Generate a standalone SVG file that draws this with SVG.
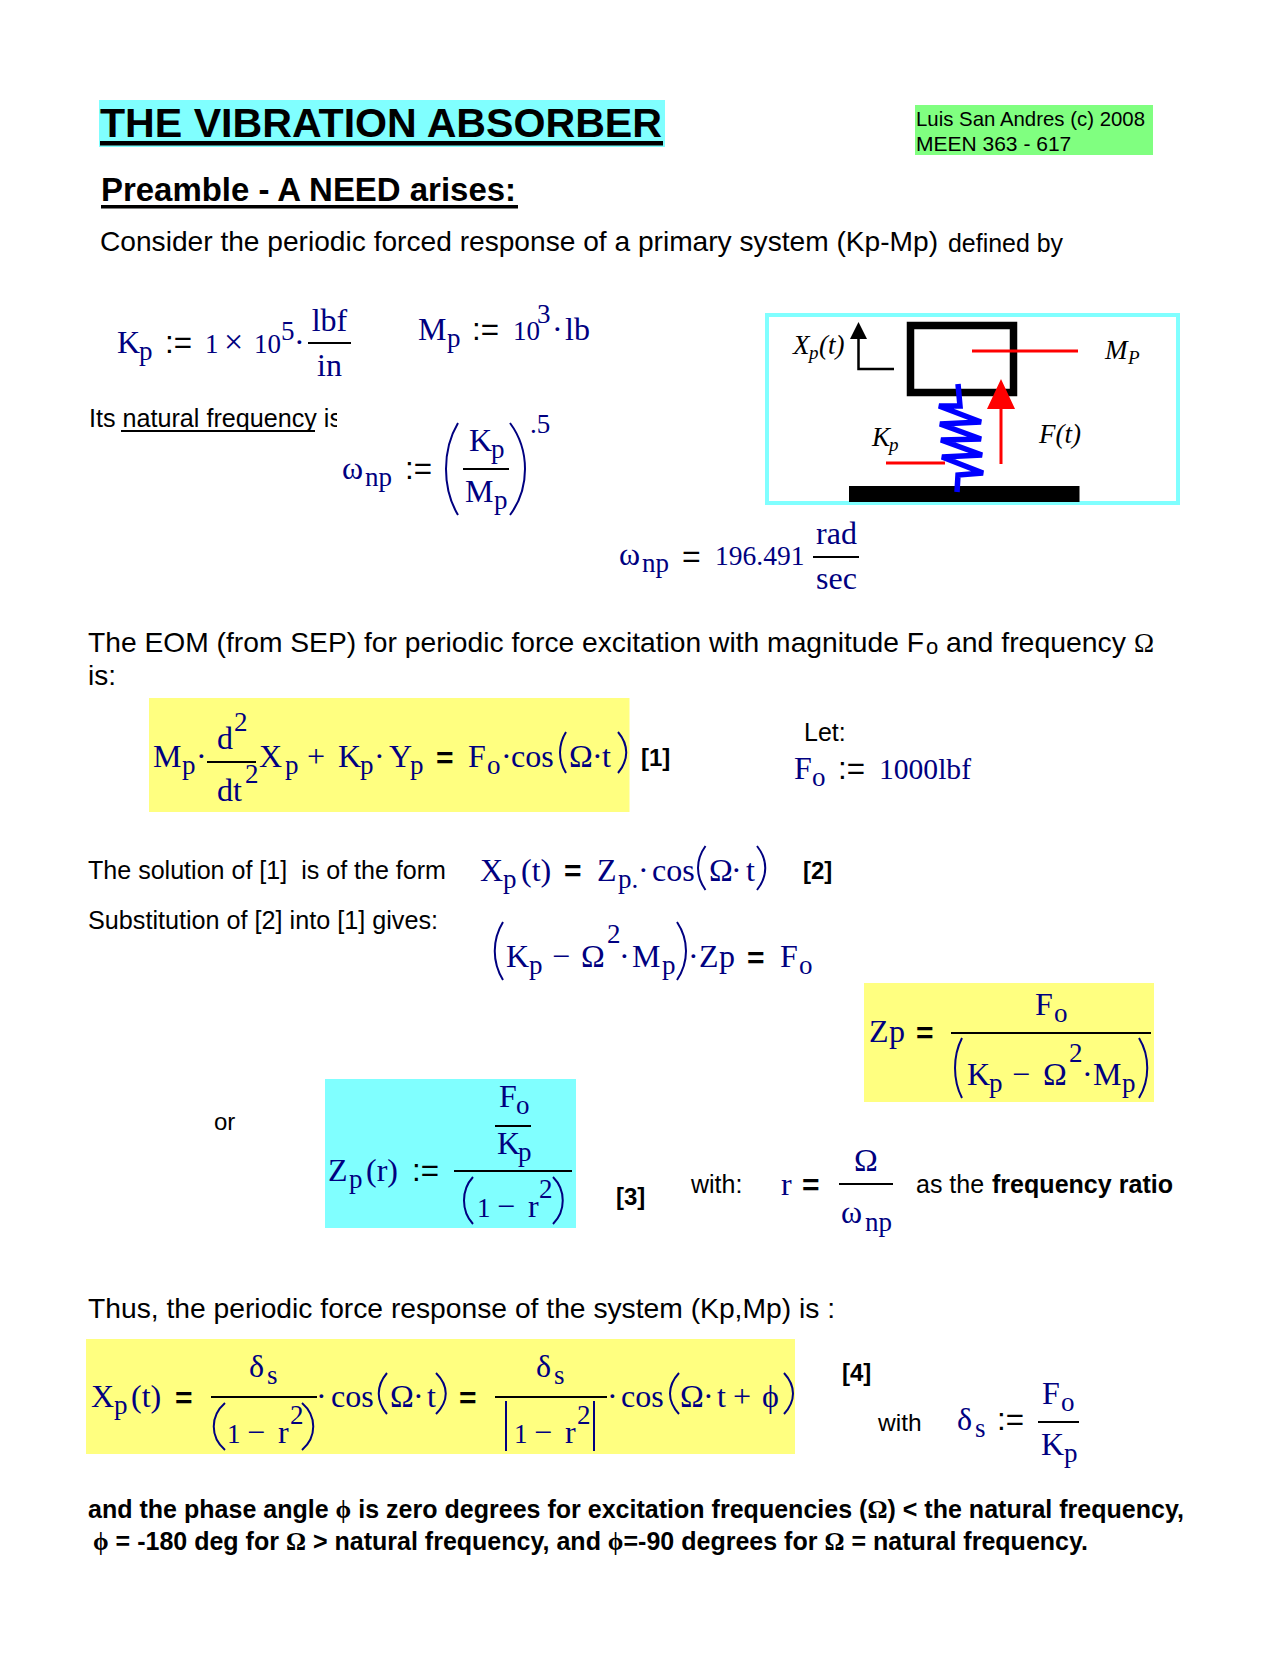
<svg xmlns="http://www.w3.org/2000/svg" width="1280" height="1656" viewBox="0 0 1280 1656">
<style>
text{white-space:pre}
.t{font-family:"Liberation Sans",Arial,sans-serif;fill:#000;font-size:25px}
.tb{font-family:"Liberation Sans",Arial,sans-serif;fill:#000;font-size:25px;font-weight:bold}
.sy{font-family:"Liberation Serif",serif}
.m{font-family:"Liberation Serif","Times New Roman",serif;fill:#000080;font-size:32px}
.s{font-family:"Liberation Serif","Times New Roman",serif;fill:#000080;font-size:27px}
.u{font-family:"Liberation Serif","Times New Roman",serif;fill:#000080;font-size:27px}
.k{font-family:"Liberation Sans",Arial,sans-serif;fill:#000;font-size:30px;font-weight:bold}
.a{font-family:"Liberation Sans",Arial,sans-serif;fill:#000;font-size:32px}
.i{font-family:"Liberation Serif","Times New Roman",serif;fill:#000;font-size:27px;font-style:italic}
.is{font-family:"Liberation Serif","Times New Roman",serif;fill:#000;font-size:19px;font-style:italic}
.c{text-anchor:middle}
.fr{stroke:#000;stroke-width:2;fill:none}
.pa{stroke:#000080;stroke-width:2;fill:none}
.rl{stroke:#f00;stroke-width:3;fill:none}
</style>
<defs><clipPath id="nf"><rect x="80" y="395" width="257" height="50"/></clipPath></defs>
<rect width="1280" height="1656" fill="#fff"/>

<g id="title">
<rect x="99" y="100" width="566" height="47" fill="#80ffff"/>
<text class="tb" x="100" y="137" style="font-size:40px" textLength="562" lengthAdjust="spacingAndGlyphs">THE VIBRATION ABSORBER</text>
<rect x="100" y="141" width="563" height="4.500" fill="#000"/>
</g>
<g id="author">
<rect x="915" y="105" width="238" height="50" fill="#80ff80"/>
<text class="t" x="916" y="126" style="font-size:21px" textLength="229" lengthAdjust="spacingAndGlyphs">Luis San Andres (c) 2008</text>
<text class="t" x="916" y="151" style="font-size:21px">MEEN 363 - 617</text>
</g>
<g id="preamble">
<text class="tb" x="101" y="201" style="font-size:33px" textLength="415" lengthAdjust="spacingAndGlyphs">Preamble - A NEED arises:</text>
<rect x="101" y="205" width="417" height="3.500" fill="#000"/>
<text class="t" x="100" y="251" style="font-size:28px" textLength="838" lengthAdjust="spacingAndGlyphs">Consider the periodic forced response of a primary system (Kp-Mp)</text>
<text class="t" x="948" y="252" style="font-size:25px" textLength="115" lengthAdjust="spacingAndGlyphs">defined by</text>
</g>

<g id="eq-kp">
<text class="m" x="117" y="353">K</text><text class="s" x="139" y="360">p</text>
<text class="a" x="165" y="353" textLength="27" lengthAdjust="spacingAndGlyphs">:=</text>
<text class="s" x="205" y="353">1</text><text class="m" x="224" y="353" style="font-size:34px">×</text><text class="s" x="254" y="353">10</text><text class="u" x="281" y="340">5</text>
<text class="m" x="294" y="353">·</text>
<line class="fr" x1="308" y1="343" x2="351" y2="343"/>
<text class="m c" x="329.500" y="331">lbf</text><text class="m c" x="329.500" y="376">in</text>
</g>
<g id="eq-mp">
<text class="m" x="418" y="340">M</text><text class="s" x="447" y="347">p</text>
<text class="a" x="472" y="340" textLength="27" lengthAdjust="spacingAndGlyphs">:=</text>
<text class="s" x="513" y="340">10</text><text class="u" x="537" y="323">3</text><text class="m" x="552" y="340">·</text><text class="m" x="565" y="340">lb</text>
</g>
<g id="natural-frequency">
<text class="t" x="89" y="427" clip-path="url(#nf)" textLength="253" lengthAdjust="spacingAndGlyphs">Its natural frequency is</text>
<rect x="121" y="430" width="194" height="2" fill="#000"/>
</g>
<g id="eq-omega">
<text class="m" x="342" y="479">ω</text><text class="s" x="365" y="486">np</text>
<text class="a" x="405" y="479" textLength="27" lengthAdjust="spacingAndGlyphs">:=</text>
<path class="pa" d="M458 423C442 450 442 488 458 515M510 423C530 450 530 488 510 515"/>
<text class="m" x="469" y="451">K</text><text class="s" x="491" y="458">p</text>
<line class="fr" x1="463" y1="469" x2="509" y2="469"/>
<text class="m" x="465" y="502">M</text><text class="s" x="494" y="509">p</text>
<text class="u" x="530" y="433">.5</text>
</g>

<g id="schematic">
<path d="M767 315H1178V503H767Z" fill="none" stroke="#80ffff" stroke-width="4"/>
<rect x="910.500" y="325.500" width="103" height="67" fill="none" stroke="#000" stroke-width="7.500"/>
<rect x="849" y="486" width="230.500" height="16" fill="#000"/>
<path d="M958 384L960 406H939L981 422L940 424L981 439L941 440L982 455L942 457L983 473L958 475L957 492" fill="none" stroke="#00f" stroke-width="5.500"/>
<path class="rl" d="M972 351H1078M886 463H945M1001 464V405"/>
<path d="M1001 379L987 409H1015Z" fill="#f00"/>
<path d="M858.500 335V369H894" fill="none" stroke="#000" stroke-width="2.500"/>
<path d="M858.500 322L850 339H867Z" fill="#000"/>
<text class="i" x="793" y="354">X</text><text class="is" x="809" y="359">p</text><text class="i" x="819" y="354">(t)</text>
<text class="i" x="1105" y="359">M</text><text class="is" x="1128" y="364">P</text>
<text class="i" x="872" y="446">K</text><text class="is" x="889" y="451">p</text>
<text class="i" x="1039" y="443">F(t)</text>
</g>
<g id="eq-omega-value">
<text class="m" x="619" y="565">ω</text><text class="s" x="642" y="572">np</text>
<text class="a" x="682" y="567">=</text>
<text class="s" x="715" y="565" style="font-size:27.500px">196.491</text>
<line class="fr" x1="813" y1="557" x2="859" y2="557"/>
<text class="m c" x="836.500" y="544">rad</text><text class="m c" x="836.500" y="589">sec</text>
</g>

<g id="eom-text">
<text class="t" x="88" y="652" style="font-size:28px" textLength="836" lengthAdjust="spacingAndGlyphs">The EOM (from SEP) for periodic force excitation with magnitude F</text>
<text class="t" x="926" y="654" style="font-size:22px">o</text>
<text class="t" x="946" y="652" style="font-size:28px" textLength="180" lengthAdjust="spacingAndGlyphs">and frequency</text>
<text class="t" x="1134" y="652" style="font-size:27px;font-family:'Liberation Serif',serif">Ω</text>
<text class="t" x="88" y="685" style="font-size:28px">is:</text>
</g>
<g id="eq-1">
<rect x="149" y="698" width="480.500" height="114" fill="#ffff80"/>
<text class="m" x="153" y="767">M</text><text class="s" x="182" y="774">p</text><text class="m" x="196" y="767">·</text>
<line class="fr" x1="207" y1="762" x2="256" y2="762"/>
<text class="m" x="217" y="749">d</text><text class="u" x="234" y="731">2</text>
<text class="m" x="217" y="801">dt</text><text class="u" x="245" y="783">2</text>
<text class="m" x="259" y="767">X</text><text class="s" x="285" y="774">p</text>
<text class="m" x="307" y="767">+</text>
<text class="m" x="338" y="767">K</text><text class="s" x="360" y="774">p</text><text class="m" x="374" y="767">·</text>
<text class="m" x="389" y="767">Y</text><text class="s" x="410" y="774">p</text>
<text class="k" x="436" y="768">=</text>
<text class="m" x="468" y="767">F</text><text class="s" x="487" y="774">o</text><text class="m" x="501" y="767">·</text>
<text class="m" x="511" y="767">cos</text>
<path class="pa" d="M566 732C558 745 558 760 566 773M618 732C629 745 629 760 618 773"/>
<text class="m" x="569" y="767">Ω</text><text class="m" x="592" y="767">·</text><text class="m" x="602" y="767">t</text>
<text class="tb" x="641" y="766" style="font-size:24px">[1]</text>
</g>
<g id="eq-fo">
<text class="t" x="804" y="741">Let:</text>
<text class="m" x="794" y="779">F</text><text class="s" x="812" y="786">o</text>
<text class="a" x="838" y="779" textLength="27" lengthAdjust="spacingAndGlyphs">:=</text>
<text class="m" x="879" y="779" textLength="92" lengthAdjust="spacingAndGlyphs" style="font-size:30px">1000lbf</text>
</g>

<g id="eq-2">
<text class="t" x="88" y="879" textLength="358" lengthAdjust="spacingAndGlyphs">The solution of [1]  is of the form</text>
<text class="m" x="480" y="881">X</text><text class="s" x="503" y="888">p</text><text class="m" x="521" y="881">(t)</text>
<text class="k" x="564" y="881">=</text>
<text class="m" x="597" y="881">Z</text><text class="s" x="618" y="888">p.</text><text class="m" x="638" y="881">·</text>
<text class="m" x="652" y="881">cos</text>
<path class="pa" d="M705.500 846C695.500 860 695.500 876 705.500 890M757 846C768 860 768 876 757 890"/>
<text class="m" x="709" y="881">Ω</text><text class="m" x="731" y="881">·</text><text class="m" x="746" y="881">t</text>
<text class="tb" x="803" y="879" style="font-size:24px">[2]</text>
</g>
<g id="eq-substitution">
<text class="t" x="88" y="929" textLength="350" lengthAdjust="spacingAndGlyphs">Substitution of [2] into [1] gives:</text>
<path class="pa" d="M503 922C492 940 492 962 503 980M677 922C689 940 689 962 677 980"/>
<text class="m" x="506" y="967">K</text><text class="s" x="529" y="974">p</text>
<text class="m" x="552" y="967">−</text><text class="m" x="581" y="967">Ω</text><text class="u" x="607" y="943">2</text><text class="m" x="619" y="967">·</text>
<text class="m" x="632" y="967">M</text><text class="s" x="662" y="974">p</text><text class="m" x="688" y="967">·</text>
<text class="m" x="699" y="967">Z</text><text class="m" x="719" y="967">p</text>
<text class="k" x="747" y="968">=</text>
<text class="m" x="780" y="967">F</text><text class="s" x="799" y="974">o</text>
</g>
<g id="eq-zp">
<rect x="864" y="983" width="290" height="119" fill="#ffff80"/>
<text class="m" x="869" y="1042">Z</text><text class="m" x="889" y="1042">p</text>
<text class="k" x="916" y="1043">=</text>
<line class="fr" x1="951" y1="1033" x2="1151" y2="1033"/>
<text class="m" x="1035" y="1015">F</text><text class="s" x="1054" y="1022">o</text>
<path class="pa" d="M962 1038C952.700 1056 952.700 1080 962 1098M1139 1038C1150 1056 1150 1080 1139 1098"/>
<text class="m" x="967" y="1085">K</text><text class="s" x="989" y="1092">p</text>
<text class="m" x="1012" y="1085">−</text><text class="m" x="1043" y="1085">Ω</text><text class="u" x="1069" y="1062">2</text><text class="m" x="1082" y="1085">·</text>
<text class="m" x="1093" y="1085">M</text><text class="s" x="1122" y="1092">p</text>
</g>
<g id="or"><text class="t" x="214" y="1130" style="font-size:24px">or</text></g>
<g id="eq-3">
<rect x="325" y="1079" width="251" height="149" fill="#80ffff"/>
<text class="m" x="499" y="1107">F</text><text class="s" x="516" y="1114">o</text>
<line class="fr" x1="495" y1="1126" x2="531" y2="1126"/>
<text class="m" x="497" y="1154">K</text><text class="s" x="518" y="1161">p</text>
<text class="m" x="328" y="1181">Z</text><text class="s" x="349" y="1188">p</text><text class="m" x="366" y="1181">(r)</text>
<text class="a" x="412" y="1181" textLength="27" lengthAdjust="spacingAndGlyphs">:=</text>
<line class="fr" x1="454" y1="1171" x2="572" y2="1171"/>
<path class="pa" d="M473 1177C461 1190 461 1211 473 1224M553 1177C566 1190 566 1211 553 1224"/>
<text class="s" x="477" y="1217">1</text><text class="m" x="497" y="1217">−</text><text class="m" x="528" y="1217">r</text><text class="u" x="539" y="1198">2</text>
<text class="tb" x="616" y="1205" style="font-size:24px">[3]</text>
</g>
<g id="eq-r">
<text class="t" x="691" y="1193">with:</text>
<text class="m" x="781" y="1195">r</text><text class="k" x="802" y="1195">=</text>
<line class="fr" x1="839" y1="1184" x2="893" y2="1184"/>
<text class="m c" x="866" y="1171">Ω</text>
<text class="m" x="841" y="1223">ω</text><text class="s" x="865" y="1231">np</text>
<text class="t" x="916" y="1193">as the </text>
<text class="tb" x="992" y="1193" textLength="181" lengthAdjust="spacingAndGlyphs">frequency ratio</text>
</g>

<g id="thus"><text class="t" x="88" y="1318" style="font-size:28px" textLength="747" lengthAdjust="spacingAndGlyphs">Thus, the periodic force response of the system (Kp,Mp) is :</text></g>
<g id="eq-4">
<rect x="86" y="1339" width="709" height="115" fill="#ffff80"/>
<text class="m" x="91" y="1407">X</text><text class="s" x="114" y="1414">p</text><text class="m" x="131" y="1407">(t)</text>
<text class="k" x="175" y="1408">=</text>
<line class="fr" x1="211" y1="1397" x2="317" y2="1397"/>
<text class="m" x="249" y="1377">δ</text><text class="s" x="267" y="1384">s</text>
<path class="pa" d="M225 1403C210 1416 210 1437 225 1450M302 1403C317 1416 317 1437 302 1450"/>
<text class="s" x="227" y="1443">1</text><text class="m" x="247" y="1443">−</text><text class="m" x="278" y="1443">r</text><text class="u" x="290" y="1424">2</text>
<text class="m" x="316" y="1407">·</text>
<text class="m" x="331" y="1407">cos</text>
<path class="pa" d="M387 1373C376 1386 376 1401 387 1414M436 1373C449 1386 449 1401 436 1414"/>
<text class="m" x="390" y="1407">Ω</text><text class="m" x="413" y="1407">·</text><text class="m" x="427" y="1407">t</text>
<text class="k" x="459" y="1408">=</text>
<line class="fr" x1="495" y1="1397" x2="607" y2="1397"/>
<text class="m" x="536" y="1377">δ</text><text class="s" x="554" y="1384">s</text>
<path d="M506 1401V1451M594 1401V1451" stroke="#000080" stroke-width="2"/>
<text class="s" x="514" y="1443">1</text><text class="m" x="534" y="1443">−</text><text class="m" x="565" y="1443">r</text><text class="u" x="577" y="1424">2</text>
<text class="m" x="607" y="1407">·</text>
<text class="m" x="621" y="1407">cos</text>
<path class="pa" d="M679 1373C667 1386 667 1401 679 1414M784 1373C796 1386 796 1401 784 1414"/>
<text class="m" x="680" y="1407">Ω</text><text class="m" x="703" y="1407">·</text><text class="m" x="717" y="1407">t</text>
<text class="m" x="733" y="1407">+</text><text class="m" x="762" y="1407">ϕ</text>
<text class="tb" x="842" y="1381" style="font-size:24px">[4]</text>
</g>
<g id="eq-delta">
<text class="t" x="878" y="1431" style="font-size:24.500px">with</text>
<text class="m" x="957" y="1430">δ</text><text class="s" x="975" y="1437">s</text>
<text class="a" x="997" y="1430" textLength="27" lengthAdjust="spacingAndGlyphs">:=</text>
<line class="fr" x1="1038" y1="1422" x2="1079" y2="1422"/>
<text class="m" x="1042" y="1404">F</text><text class="s" x="1061" y="1411">o</text>
<text class="m" x="1041" y="1455">K</text><text class="s" x="1064" y="1462">p</text>
</g>
<g id="phase-note">
<text class="tb" x="88" y="1518" textLength="1096" lengthAdjust="spacing">and the phase angle <tspan class="sy">ϕ</tspan> is zero degrees for excitation frequencies (<tspan class="sy">Ω</tspan>) &lt; the natural frequency,</text>
<text class="tb" x="93" y="1550" textLength="995" lengthAdjust="spacing"><tspan class="sy">ϕ</tspan> = -180 deg for <tspan class="sy">Ω</tspan> &gt; natural frequency, and <tspan class="sy">ϕ</tspan>=-90 degrees for <tspan class="sy">Ω</tspan> = natural frequency.</text>
</g>
</svg>
